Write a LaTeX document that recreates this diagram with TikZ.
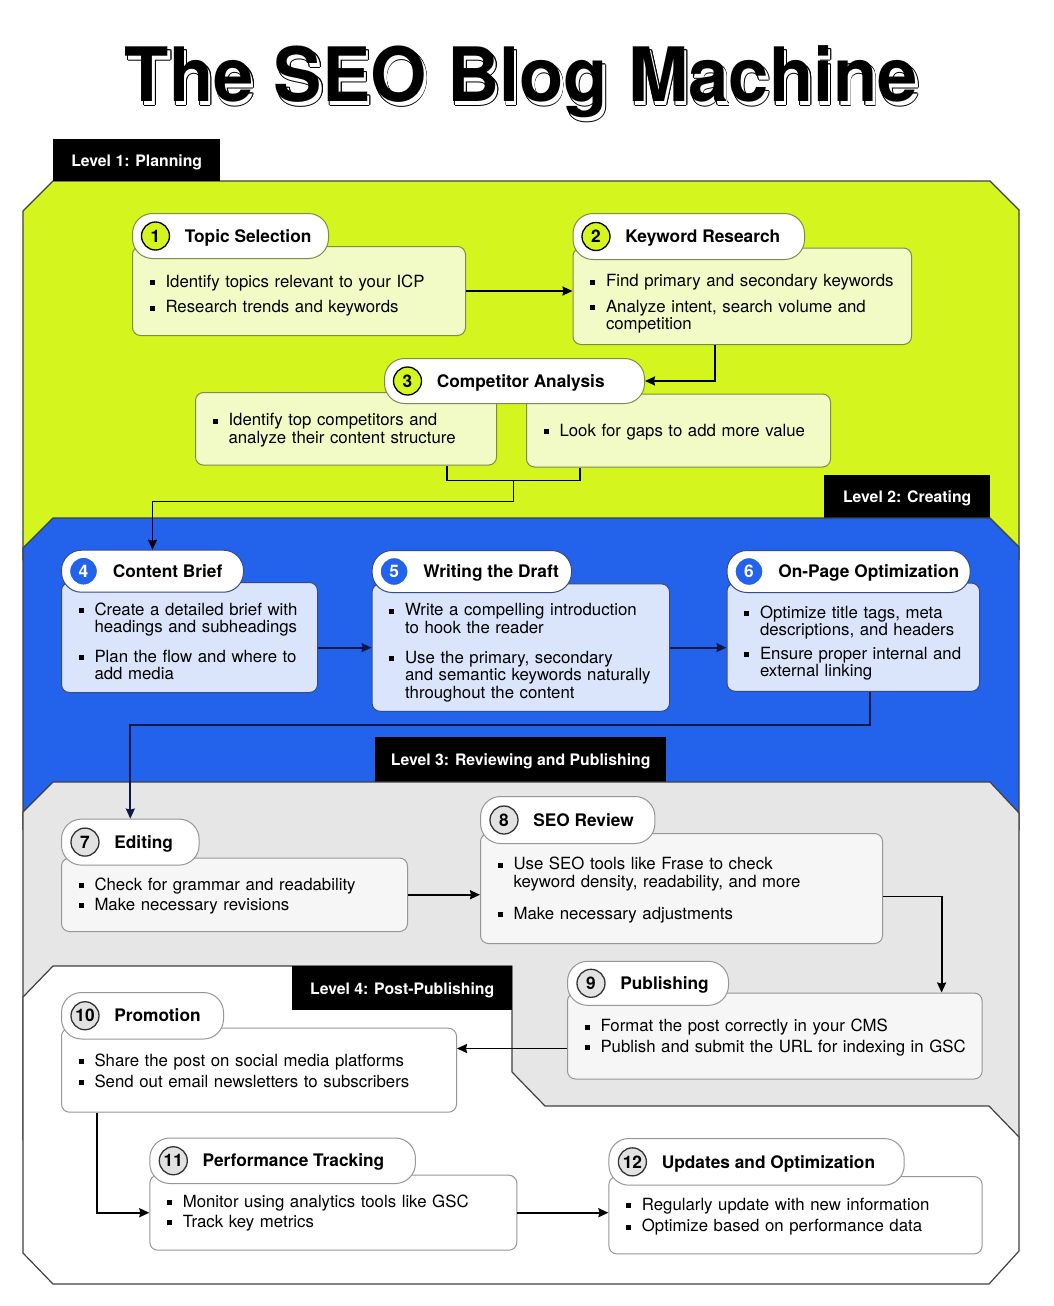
\documentclass[tikz,border=0pt]{standalone}
\usepackage{fontspec}
\setmainfont{TeX Gyre Heros}
\usepackage{graphicx}
\usetikzlibrary{positioning,arrows.meta}

\definecolor{planlime}{RGB}{212,245,30}
\definecolor{plancard}{RGB}{242,250,198}
\definecolor{planedge}{RGB}{125,140,75}
\definecolor{makeblue}{RGB}{35,99,235}
\definecolor{makecard}{RGB}{218,228,250}
\definecolor{makeedge}{RGB}{55,75,130}
\definecolor{reviewgray}{RGB}{230,230,230}
\definecolor{reviewcard}{RGB}{246,246,246}
\definecolor{softedge}{RGB}{150,150,150}
\definecolor{badgegray}{RGB}{226,226,226}
\definecolor{linkblue}{RGB}{12,25,70}

\newcommand{\bodyfont}{\fontsize{16.8}{17.5}\selectfont}
\newcommand{\headfont}{\fontsize{17.3}{20}\selectfont\bfseries}
\newcommand{\tabfont}{\fontsize{15.8}{18}\selectfont\bfseries}
\newcommand{\titlefont}{\fontsize{75}{80}\selectfont\bfseries}
\newcommand{\sq}{\makebox[16pt][l]{\rule[2.2pt]{5pt}{5pt}}}
\newcommand{\seotitle}{\scalebox{0.966}[1]{The SEO Blog Machine}}
% bullet list, lowered inside its card by #1
\newcommand{\items}[2]{\raisebox{-#1}[\height][\depth]{\begin{tabular}{@{}l@{}l@{}}#2\end{tabular}}}

\tikzset{
  panel/.style={draw=black!75, line width=1.2pt, line join=round},
  tab/.style={fill=black, text=white, font=\tabfont, anchor=north west, inner sep=0pt, text height=12pt, text depth=0pt},
  card/.style={draw, rounded corners=8pt, line width=1pt, anchor=north west, inner xsep=17pt, inner ysep=0pt, font=\bodyfont, align=left},
  pill/.style={draw, fill=white, rounded corners=20pt, line width=1pt, anchor=north west, minimum height=44pt, inner sep=0pt},
  badge/.style={circle, line width=1.3pt, minimum size=28pt, inner sep=0pt, font=\headfont},
  steptitle/.style={font=\headfont, inner sep=0pt, anchor=west, text height=12.4pt, text depth=0pt},
  link/.style={line width=1.8pt, -{Stealth[length=10pt, width=9pt, inset=1pt]}},
  wire/.style={line width=1.8pt},
  headline/.style={font=\titlefont, anchor=base, inner sep=0pt},
}

\begin{document}
\begin{tikzpicture}[x=1pt, y=-1pt]
    \useasboundingbox (0,0) rectangle (1053,1306);
    \fill[white] (0,0) rectangle (1053,1306);

    % title with offset outline
    \foreach \dx/\dy [count=\k] in {-0.8/0, 0.8/0, 0/-0.8, 0/0.8, -0.6/-0.6, 0.6/0.6, -0.6/0.6, 0.6/-0.6}
        \node[headline, text=black] (echo\k) at (524+\dx, 105.2+\dy) {\seotitle};
    \node[headline, text=white] (shadow) at (524, 105.2) {\seotitle};
    \node[headline, text=black] (title) at (521.5, 101.7) {\seotitle};

    % level panels
    \draw[panel, fill=planlime] (53,181) -- (990,181) -- (1019,210) -- (1019,560) -- (23,560) -- (23,211) -- cycle;
    \node[tab, minimum width=167pt, minimum height=42pt] (lv1) at (53,139) {Level 1: Planning};
    \node[tab, minimum width=166pt, minimum height=43pt] (lv2) at (824,475) {Level 2: Creating};
    \draw[panel, fill=makeblue] (53,518) -- (990,518) -- (1019,547) -- (1019,830) -- (23,830) -- (23,548) -- cycle;
    \node[tab, minimum width=291pt, minimum height=45pt] (lv3) at (375,737) {Level 3: Reviewing and Publishing};
    \draw[panel, fill=reviewgray] (53,782) -- (990,782) -- (1019,813) -- (1019,1140) -- (23,1140) -- (23,812) -- cycle;
    \draw[panel, fill=white] (53,966) -- (512,966) -- (512,1072) -- (545,1106) -- (989,1106) -- (1019,1137)
        -- (1019,1251) -- (989,1284) -- (53,1284) -- (23,1253) -- (23,997) -- cycle;
    \node[tab, minimum width=220pt, minimum height=44pt] (lv4) at (292,966) {Level 4: Post-Publishing};

    % level 1
    \node[card, fill=plancard, draw=planedge, text width=299pt, minimum height=89pt] (b1) at (132,246)
        {\items{5.5pt}{\sq & Identify topics relevant to your ICP\\[7.8pt]
         \sq & Research trends and keywords}};
    \node[pill, draw=planedge, minimum width=196pt, minimum height=45pt] (p1) at (132,213) {};
    \node[badge, draw=black, fill=planlime] (n1) at ([xshift=23.5pt]p1.west) {1};
    \node[steptitle, right=14.5pt of n1] (t1) {Topic Selection};

    \node[card, fill=plancard, draw=planedge, text width=304.5pt, minimum height=96.5pt] (b2) at (572.5,247.5)
        {\items{8.5pt}{\sq & Find primary and secondary keywords\\[7.8pt]
         \sq & Analyze intent, search volume and\\ & competition}};
    \node[pill, draw=planedge, minimum width=231.5pt, minimum height=46pt] (p2) at (572.5,213) {};
    \node[badge, draw=black, fill=planlime] (n2) at ([xshift=23.5pt]p2.west) {2};
    \node[steptitle, right=14.5pt of n2] (t2) {Keyword Research};

    \node[card, fill=plancard, draw=planedge, text width=267pt, minimum height=72.6pt] (b3a) at (195,392)
        {\items{2.4pt}{\sq & Identify top competitors and\\ & analyze their content structure}};
    \node[card, fill=plancard, draw=planedge, text width=270pt, minimum height=73pt] (b3b) at (526,393.5)
        {\items{2pt}{\sq & Look for gaps to add more value}};
    \node[pill, draw=planedge, minimum width=260pt, minimum height=45pt] (p3) at (384,358) {};
    \node[badge, draw=black, fill=planlime] (n3) at ([xshift=23.5pt]p3.west) {3};
    \node[steptitle, right=14.5pt of n3] (t3) {Competitor Analysis};

    \draw[link] (b1.east) -- (b1.east -| b2.west);
    \draw[link] ([xshift=-27pt]b2.south) |- (p3.east);
    \coordinate (m3) at (513.5,480.4);
    \draw[wire] ([xshift=-50pt]b3a.south east) |- (m3) -| ([xshift=54pt]b3b.south west);

    % level 2
    \node[card, fill=makecard, draw=makeedge, text width=222pt, minimum height=110pt] (b4) at (61,582)
        {\items{6.5pt}{\sq & Create a detailed brief with\\ & headings and subheadings\\[11.9pt]
         \sq & Plan the flow and where to\\ & add media}};
    \node[pill, draw=makeedge, minimum width=182pt, minimum height=42pt] (p4) at (61,549.7) {};
    \node[badge, draw=white, fill=makeblue, text=white] (n4) at ([xshift=22.5pt]p4.west) {4};
    \node[steptitle, right=14.5pt of n4] (t4) {Content Brief};

    \node[card, fill=makecard, draw=makeedge, text width=263.4pt, minimum height=127.4pt] (b5) at (371.6,583.4)
        {\items{6pt}{\sq & Write a compelling introduction\\ & to hook the reader\\[12.7pt]
         \sq & Use the primary, secondary\\ & and semantic keywords naturally\\ & throughout the content}};
    \node[pill, draw=makeedge, minimum width=199.4pt, minimum height=42pt] (p5) at (371.6,550) {};
    \node[badge, draw=white, fill=makeblue, text=white] (n5) at ([xshift=22.5pt]p5.west) {5};
    \node[steptitle, right=14.5pt of n5] (t5) {Writing the Draft};

    \node[card, fill=makecard, draw=makeedge, text width=218.5pt, minimum height=108.2pt] (b6) at (726.5,582.6)
        {\items{6.8pt}{\sq & Optimize title tags, meta\\ & descriptions, and headers\\[6pt]
         \sq & Ensure proper internal and\\ & external linking}};
    \node[pill, draw=makeedge, minimum width=243.2pt, minimum height=42pt] (p6) at (726.5,550) {};
    \node[badge, draw=white, fill=makeblue, text=white] (n6) at ([xshift=22.5pt]p6.west) {6};
    \node[steptitle, right=14.5pt of n6] (t6) {On-Page Optimization};

    \draw[link] (m3) -- ++(0,21) -| (p4.north);
    \draw[link, color=linkblue] (b4.east |- b5.west) -- (b5.west);
    \draw[link, color=linkblue] (b5.east) -- (b5.east -| b6.west);

    % level 3
    \node[card, fill=reviewcard, draw=softedge, text width=312pt, minimum height=73.5pt] (b7) at (61,857.5)
        {\items{2pt}{\sq & Check for grammar and readability\\[2.4pt]
         \sq & Make necessary revisions}};
    \node[pill, draw=softedge, minimum width=137.6pt, minimum height=46pt] (p7) at (61,818.6) {};
    \node[badge, draw=black!80, fill=badgegray] (n7) at ([xshift=24pt]p7.west) {7};
    \node[steptitle, right=14.5pt of n7] (t7) {Editing};

    \node[card, fill=reviewcard, draw=softedge, text width=368pt, minimum height=110pt] (b8) at (480,833)
        {\items{2.5pt}{\sq & Use SEO tools like Frase to check\\ & keyword density, readability, and more\\[14.4pt]
         \sq & Make necessary adjustments}};
    \node[pill, draw=softedge, minimum width=174.4pt, minimum height=47pt] (p8) at (480,796) {};
    \node[badge, draw=black!80, fill=badgegray] (n8) at ([xshift=24pt]p8.west) {8};
    \node[steptitle, right=14.5pt of n8] (t8) {SEO Review};

    \node[card, fill=reviewcard, draw=softedge, text width=380.6pt, minimum height=86pt] (b9) at (567,992.5)
        {\items{2.5pt}{\sq & Format the post correctly in your CMS\\[3.1pt]
         \sq & Publish and submit the URL for indexing in GSC}};
    \node[pill, draw=softedge, minimum width=161pt, minimum height=44pt] (p9) at (567,960.8) {};
    \node[badge, draw=black!80, fill=badgegray] (n9) at ([xshift=24pt]p9.west) {9};
    \node[steptitle, right=14.5pt of n9] (t9) {Publishing};

    \draw[link, color=linkblue] ([xshift=17pt]b6.south) -- ++(0,33.5) -| (p7.north);
    \draw[link] (b7.east) -- (b7.east -| b8.west);
    \draw[link] ([yshift=-8pt]b8.east) -| ([xshift=-41pt]b9.north east);

    % level 4
    \node[card, fill=white, draw=softedge, text width=361pt, minimum height=84pt] (b10) at (61,1027.7)
        {\items{2.8pt}{\sq & Share the post on social media platforms\\[3.2pt]
         \sq & Send out email newsletters to subscribers}};
    \node[pill, draw=softedge, minimum width=162pt, minimum height=46.5pt] (p10) at (61,992) {};
    \node[badge, draw=black!80, fill=badgegray] (n10) at ([xshift=24pt]p10.west) {10};
    \node[steptitle, right=14.5pt of n10] (t10) {Promotion};

    \node[card, fill=white, draw=softedge, text width=333pt, minimum height=75pt] (b11) at (149.3,1174.7)
        {\items{1pt}{\sq & Monitor using analytics tools like GSC\\[2.9pt]
         \sq & Track key metrics}};
    \node[pill, draw=softedge, minimum width=265.6pt, minimum height=45.5pt] (p11) at (149.3,1137.5) {};
    \node[badge, draw=black!80, fill=badgegray] (n11) at ([xshift=24pt]p11.west) {11};
    \node[steptitle, right=14.5pt of n11] (t11) {Performance Tracking};

    \node[card, fill=white, draw=softedge, text width=339.2pt, minimum height=77.4pt] (b12) at (608.4,1176)
        {\items{2.5pt}{\sq & Regularly update with new information\\[3.4pt]
         \sq & Optimize based on performance data}};
    \node[pill, draw=softedge, minimum width=295.3pt, minimum height=46.7pt] (p12) at (608.4,1138) {};
    \node[badge, draw=black!80, fill=badgegray] (n12) at ([xshift=24pt]p12.west) {12};
    \node[steptitle, right=14.5pt of n12] (t12) {Updates and Optimization};

    \draw[link] ([yshift=-12.5pt]b9.west) -- ([yshift=-12.5pt]b9.west -| b10.east);
    \draw[link] ([xshift=36pt]b10.south west) |- (b11.west);
    \draw[link] (b11.east) -- (b11.east -| b12.west);
\end{tikzpicture}
\end{document}
